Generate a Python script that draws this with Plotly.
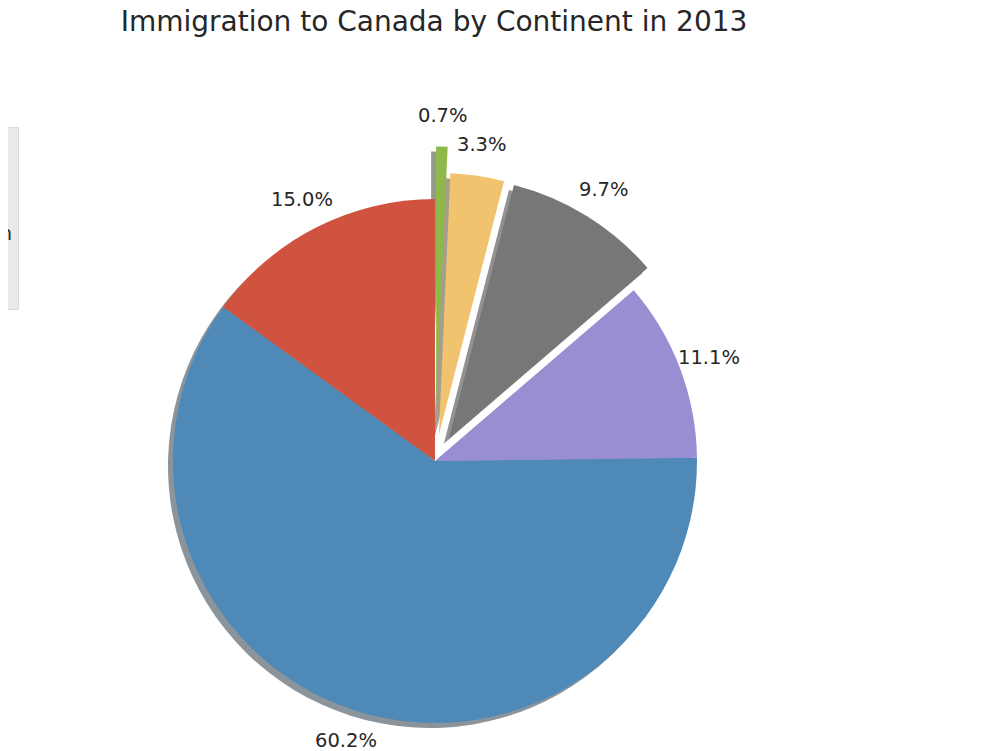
import math
import plotly.graph_objects as go

# ---- data ----
continents = ["Africa", "Asia", "Europe", "Latin America and the Caribbean",
              "Northern America", "Oceania"]
share_2013 = [15.0, 60.2, 11.1, 9.7, 3.3, 0.7]
explode = [0.0, 0.0, 0.0, 0.1, 0.1, 0.2]
colors = ["#D0533F", "#4E89B8", "#988ED2", "#777777", "#F1C36E", "#8EB84A"]
title_text = "Immigration to Canada by Continent in 2013"

# ---- layout geometry ----
W, H = 1000, 751
CX, CY, R = 427, 453, 262
SHADOW = 5.0
PCT_DIST = 1.12
FONT = "DejaVu Sans"
TXT = "#262626"

total = sum(share_2013)
# plotly (counterclockwise) puts the first slice clockwise of 12 o'clock;
# rotate so the first slice starts at 12 o'clock going counterclockwise
ROT = -360.0 * share_2013[0] / total

mids = []
cum = 0.0
for v in share_2013:
    mids.append(math.radians(90 + 360 * (cum + v / 2) / total))
    cum += v


def dom(dx, dy):
    return dict(x=[(CX + dx - R) / W, (CX + dx + R) / W],
                y=[(H - CY + dy - R) / H, (H - CY + dy + R) / H])


def shade(hexc):
    h = hexc.lstrip("#")
    rgb = [int(h[i:i + 2], 16) for i in (0, 2, 4)]
    s = [round(255 * 0.5 + 0.15 * c) for c in rgb]
    return "rgb(%d,%d,%d)" % tuple(s)


# group slices by explode offset
groups = {}
offsets = []
for i, e in enumerate(explode):
    dx = e * R * math.cos(mids[i])
    dy = e * R * math.sin(mids[i])
    offsets.append((dx, dy))
    key = (round(dx, 3), round(dy, 3))
    groups.setdefault(key, []).append(i)

CLEAR = "rgba(0,0,0,0)"
fig = go.Figure()

# legend carrier (practically zero size, in the top-right corner)
fig.add_trace(go.Pie(labels=continents, values=share_2013, sort=False,
                     marker=dict(colors=colors, line=dict(width=0)),
                     textinfo="none", domain=dict(x=[0.9999, 1], y=[0.9999, 1]),
                     hoverinfo="skip", showlegend=True))

# shadows
for (dx, dy), idx in groups.items():
    cols = [shade(colors[i]) if i in idx else CLEAR for i in range(len(continents))]
    fig.add_trace(go.Pie(labels=continents, values=share_2013, sort=False,
                         rotation=ROT, direction="counterclockwise",
                         marker=dict(colors=cols, line=dict(width=0)),
                         textinfo="none", domain=dom(dx - SHADOW, dy - SHADOW),
                         hoverinfo="skip", showlegend=False))

# wedges
for (dx, dy), idx in groups.items():
    cols = [colors[i] if i in idx else CLEAR for i in range(len(continents))]
    fig.add_trace(go.Pie(labels=continents, values=share_2013, sort=False,
                         rotation=ROT, direction="counterclockwise",
                         marker=dict(colors=cols, line=dict(width=0)),
                         textinfo="none",
                         domain=dom(dx, dy), hoverinfo="skip", showlegend=False))

# percentage labels (autopct-style, at PCT_DIST * radius from the wedge centre)
for i, v in enumerate(share_2013):
    dx, dy = offsets[i]
    px = CX + dx + PCT_DIST * R * math.cos(mids[i])
    py = (H - CY) + dy + PCT_DIST * R * math.sin(mids[i])
    fig.add_annotation(x=px / W, y=py / H, xref="paper", yref="paper",
                       text="%.1f%%" % (100.0 * v / total), showarrow=False,
                       xanchor="center", yanchor="middle",
                       font=dict(family=FONT, size=19.5, color=TXT))

fig.update_layout(
    width=W, height=H,
    paper_bgcolor="white", plot_bgcolor="white",
    margin=dict(l=0, r=0, t=0, b=0, autoexpand=False),
    title=dict(text=title_text, x=426 / W, xanchor="center", xref="paper",
               y=1 - 13 / H, yanchor="middle", yref="container",
               font=dict(family=FONT, size=28, color=TXT)),
    legend=dict(x=11 / W, xanchor="right", y=1 - 119 / H, yanchor="top",
                bgcolor="#EAEAEA", bordercolor="#DADADA", borderwidth=1,
                font=dict(family=FONT, size=19.5, color=TXT)),
    font=dict(family=FONT),
)

fig.write_html("out.html")
